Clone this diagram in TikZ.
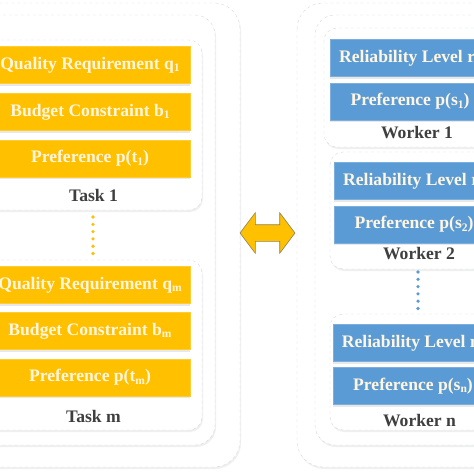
\documentclass[tikz,border=0pt]{standalone}
\usepackage{fontspec}
\setmainfont{Liberation Serif}
\usetikzlibrary{shapes.arrows,shadows}

\definecolor{taskyellow}{HTML}{FFC000}
\definecolor{workerblue}{HTML}{5B9BD5}
\definecolor{boxtext}{HTML}{FFF6E2}
\definecolor{labeltext}{HTML}{3F3F3F}
\definecolor{frameline}{HTML}{D3DAE4}
\definecolor{arrowline}{HTML}{8C8458}

\newcommand{\lowidx}[1]{\raisebox{-0.3ex}{\fontsize{11.5}{11.5}\selectfont #1}}

\tikzset{
	frame/.style={draw=frameline, dashed, fill=white, drop shadow={opacity=0.12, shadow xshift=1pt, shadow yshift=-2pt}},
	tbox/.style={rectangle, fill=taskyellow, draw=taskyellow!80!white, minimum width=200, minimum height=37, text=boxtext, font=\fontsize{17.6}{20}\selectfont\bfseries, drop shadow={opacity=0.18, shadow xshift=0pt, shadow yshift=-2pt}},
	wbox/.style={tbox, fill=workerblue, draw=workerblue!80!white, minimum width=160},
	caption/.style={text=labeltext, font=\fontsize{17.6}{20}\selectfont\bfseries},
	dots/.style={line width=3.6pt, line cap=round, dash pattern=on 0pt off 7.3pt}
}

\begin{document}
\begin{tikzpicture}[x=1pt,y=-1pt]

	\useasboundingbox (0,0) rectangle (474,474);
	\clip (0,0) rectangle (474,474);

	% containers
	\path[frame, rounded corners=26] (-40,3) rectangle (240,467);
	\path[frame, rounded corners=20] (-40,15) rectangle (215,445);
	\path[frame, rounded corners=13] (-40,40) rectangle (202,210);
	\path[frame, rounded corners=13] (-40,260) rectangle (202,430);

	\path[frame, rounded corners=26] (297,3) rectangle (520,467);
	\path[frame, rounded corners=20] (315,15) rectangle (520,445);
	\path[frame, rounded corners=13] (324,28) rectangle (520,147);
	\path[frame, rounded corners=13] (330,152) rectangle (520,269);
	\path[frame, rounded corners=13] (330,314) rectangle (520,430);

	% tasks
	\node (q1) [tbox] at (90, 65) {Quality Requirement q\lowidx{1}};
	\node (b1) [tbox] at (90, 112) {Budget Constraint b\lowidx{1}};
	\node (p1) [tbox] at (90, 158.5) {Preference p(t\lowidx{1})};
	\node (task1) [caption] at (93.5, 195) {Task 1};

	\node (qm) [tbox] at (90, 285) {Quality Requirement q\lowidx{m}};
	\node (bm) [tbox] at (90, 331) {Budget Constraint b\lowidx{m}};
	\node (pm) [tbox] at (90, 377.5) {Preference p(t\lowidx{m})};
	\node (taskm) [caption] at (93.5, 416) {Task m};

	% workers
	\node (r1) [wbox] at (410, 58) {Reliability Level r\lowidx{1}};
	\node (s1) [wbox] at (410, 101.5) {Preference p(s\lowidx{1})};
	\node (worker1) [caption] at (417, 133) {Worker 1};

	\node (r2) [wbox] at (414, 181) {Reliability Level r\lowidx{2}};
	\node (s2) [wbox] at (414, 224.5) {Preference p(s\lowidx{2})};
	\node (worker2) [caption] at (419, 254) {Worker 2};

	\node (rn) [wbox] at (413, 343) {Reliability Level r\lowidx{n}};
	\node (sn) [wbox] at (413, 386) {Preference p(s\lowidx{n})};
	\node (workern) [caption] at (419.5, 421) {Worker n};

	\node (swap) [double arrow, fill=taskyellow, draw=arrowline, line width=0.6pt, inner xsep=0pt, inner ysep=8pt, minimum height=55, double arrow head extend=12, double arrow tip angle=106] at (267.5, 233) {};

	\coordinate (tgap1) at (93, 217);
	\coordinate (tgap2) at (93, 254);
	\coordinate (wgap1) at (418, 272);
	\coordinate (wgap2) at (418, 309);

	\path
	(tgap1) edge[dots, taskyellow] (tgap2)
	(wgap1) edge[dots, workerblue] (wgap2);

\end{tikzpicture}
\end{document}
